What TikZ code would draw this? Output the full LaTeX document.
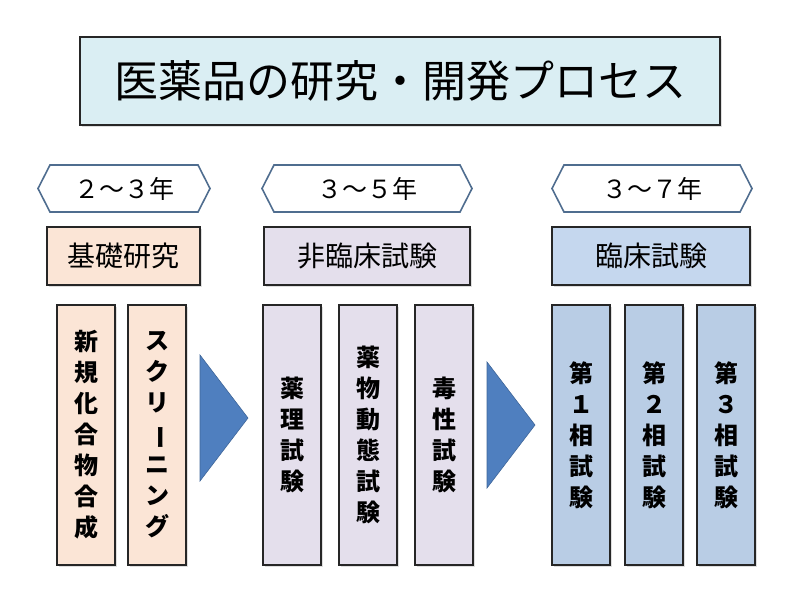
\documentclass[tikz,border=0pt]{standalone}
\usepackage{fontspec}
\usepackage{graphicx}
\setmainfont{Noto Sans CJK JP}
\usetikzlibrary{shapes.geometric,shadows}
\definecolor{peach}{HTML}{FBE5D6}
\definecolor{lav}{HTML}{E4DFEC}
\definecolor{lblue}{HTML}{C5D7EE}
\definecolor{colblue}{HTML}{B9CDE5}
\definecolor{titlebg}{HTML}{DAEEF3}
\definecolor{hexline}{HTML}{4F6D8F}
\definecolor{arrowblue}{HTML}{4F7FBF}
\newcommand{\vbar}{\rotatebox[origin=c]{-90}{ー}}
\tikzset{
 boxst/.style={draw=black!85,line width=1.6pt,drop shadow={opacity=0.25,shadow xshift=1.5pt,shadow yshift=-1.5pt}},
 coltext/.style={align=center,font=\fontsize{24}{31}\selectfont\bfseries},
 hexst/.style={draw=hexline,line width=1.6pt,fill=white},
 bigarrow/.style={fill=arrowblue,draw=arrowblue!80!black,line width=0.6pt}
}
\begin{document}
\begin{tikzpicture}[x=1pt,y=-1pt]
\useasboundingbox (0,0) rectangle (800,600);
% title
\draw[boxst,fill=titlebg] (80,37) rectangle (720,125);
\node (title) at (400,81) {\fontsize{44}{46}\selectfont 医薬品の研究・開発プロセス};
% hexagons
\foreach \a/\b/\t/\n in {38/210/２～３年/h1,262/472/３～５年/h2,552/752/３～７年/h3}{
 \draw[hexst] (\a,188.5) -- (\a+12,165) -- (\b-12,165) -- (\b,188.5) -- (\b-12,212) -- (\a+12,212) -- cycle;
 \node (\n) at ({(\a+\b)/2},188.5) {\fontsize{25}{27}\selectfont \t};
}
% headers
\draw[boxst,fill=peach] (47,227) rectangle (200,285);
\node (k1) at (123.5,256) {\fontsize{28}{30}\selectfont 基礎研究};
\draw[boxst,fill=lav] (264,227) rectangle (470,285);
\node (k2) at (367,256) {\fontsize{28}{30}\selectfont 非臨床試験};
\draw[boxst,fill=lblue] (552,227) rectangle (750,285);
\node (k3) at (651,256) {\fontsize{28}{30}\selectfont 臨床試験};
% columns
\foreach \a/\c/\t/\n in {57/peach/新\\規\\化\\合\\物\\合\\成/c1,
 128/peach/ス\\ク\\リ\\\vbar\\ニ\\ン\\グ/c2,
 263/lav/薬\\理\\試\\験/c3,
 339/lav/薬\\物\\動\\態\\試\\験/c4,
 415/lav/毒\\性\\試\\験/c5,
 552/colblue/第\\１\\相\\試\\験/c6,
 625/colblue/第\\２\\相\\試\\験/c7,
 697/colblue/第\\３\\相\\試\\験/c8}{
 \draw[boxst,fill=\c] (\a,305) rectangle (\a+58,565);
 \node[coltext] (\n) at (\a+29,435) {\t};
}
% arrows
\draw[bigarrow] (200,355) -- (248,418) -- (200,481) -- cycle;
\draw[bigarrow] (487,362) -- (535,425) -- (487,488) -- cycle;
\end{tikzpicture}
\end{document}
